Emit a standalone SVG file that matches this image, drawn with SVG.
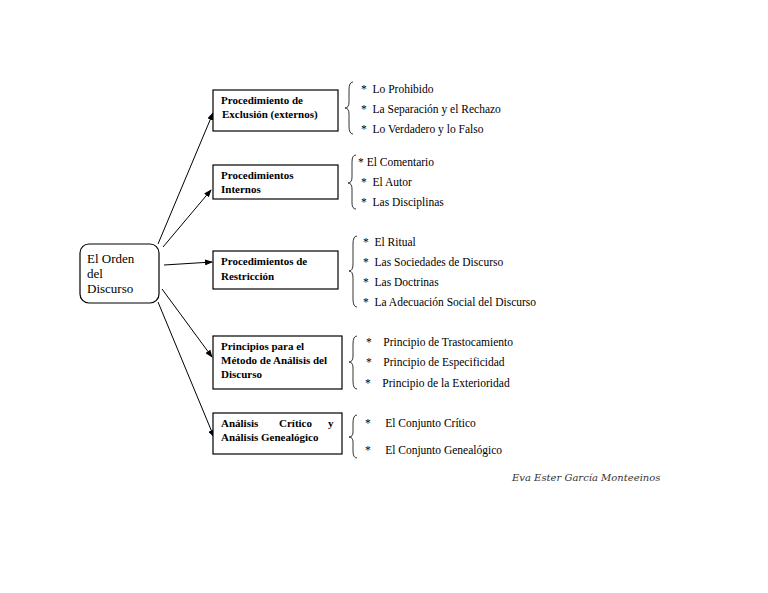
<svg xmlns="http://www.w3.org/2000/svg" width="768" height="593" viewBox="0 0 768 593">
<defs><marker id="ah" markerWidth="8" markerHeight="6" refX="7" refY="3" orient="auto" markerUnits="userSpaceOnUse"><path d="M0,0 L8,3 L0,6 z" fill="#000"/></marker></defs>
<style>
.b{fill:#fff;stroke:#000;stroke-width:1.2}
.t{font-family:"Liberation Serif",serif;font-size:11px;font-weight:bold;fill:#000}
.l{font-family:"Liberation Serif",serif;font-size:11.5px;fill:#000;white-space:pre}
.br{fill:none;stroke:#000;stroke-width:0.8}
.c{stroke:#000;stroke-width:1;fill:none;marker-end:url(#ah)}
</style>
<rect width="768" height="593" fill="#fff"/>
<g id="connectors">
<line class="c" x1="158" y1="244" x2="213" y2="113"/>
<line class="c" x1="163" y1="247" x2="211" y2="190"/>
<line class="c" x1="164" y1="265" x2="212" y2="262"/>
<line class="c" x1="162" y1="289" x2="212" y2="357"/>
<line class="c" x1="158" y1="302" x2="214" y2="437"/>
</g>
<g id="root"><rect class="b" x="80" y="244" width="79" height="59" rx="9"/>
<text x="87" y="263" font-family="Liberation Serif,serif" font-size="13">El Orden</text>
<text x="87" y="278" font-family="Liberation Serif,serif" font-size="13">del</text>
<text x="87" y="293" font-family="Liberation Serif,serif" font-size="13">Discurso</text></g>
<g id="n1"><rect class="b" x="213" y="90" width="125" height="41"/>
<text class="t" x="221" y="104">Procedimiento de</text><text class="t" x="222" y="118">Exclusión (externos)</text></g>
<g id="n2"><rect class="b" x="213" y="165" width="125" height="34"/>
<text class="t" x="221" y="179">Procedimientos</text><text class="t" x="221" y="193">Internos</text></g>
<g id="n3"><rect class="b" x="213" y="251" width="125" height="38"/>
<text class="t" x="221" y="265">Procedimientos de</text><text class="t" x="221" y="280">Restricción</text></g>
<g id="n4"><rect class="b" x="213" y="336" width="129" height="53"/>
<text class="t" x="221" y="350">Principios para el</text><text class="t" x="221" y="364">Método de Análisis del</text><text class="t" x="221" y="378">Discurso</text></g>
<g id="n5"><rect class="b" x="213" y="413" width="129" height="41"/>
<text class="t" x="221" y="427">Análisis</text><text class="t" x="279" y="427">Crítico</text><text class="t" x="328" y="427">y</text><text class="t" x="221" y="441">Análisis Genealógico</text></g>
<g id="lists">
<path class="br" d="M353,82 Q349,82 349,90 L349,102 Q349,108 345,108 Q349,108 349,114 L349,126 Q349,134 353,134"/>
<text class="l" x="361" y="93" xml:space="preserve">*  Lo Prohibido</text>
<text class="l" x="361" y="113" xml:space="preserve">*  La Separación y el Rechazo</text>
<text class="l" x="361" y="133" xml:space="preserve">*  Lo Verdadero y lo Falso</text>
<path class="br" d="M356,155 Q352,155 352,162 L352,177 Q352,183 348,183 Q352,183 352,189 L352,203 Q352,209 356,209"/>
<text class="l" x="358" y="166" xml:space="preserve">* El Comentario</text>
<text class="l" x="361" y="186" xml:space="preserve">*  El Autor</text>
<text class="l" x="361" y="206" xml:space="preserve">*  Las Disciplinas</text>
<path class="br" d="M357,236 Q353,236 353,244 L353,264 Q353,271 349,271 Q353,271 353,278 L353,299 Q353,307 357,307"/>
<text class="l" x="363" y="246" xml:space="preserve">*  El Ritual</text>
<text class="l" x="363" y="266" xml:space="preserve">*  Las Sociedades de Discurso</text>
<text class="l" x="363" y="286" xml:space="preserve">*  Las Doctrinas</text>
<text class="l" x="363" y="306" xml:space="preserve">*  La Adecuación Social del Discurso</text>
<path class="br" d="M357,336 Q353,336 353,344 L353,356 Q353,362 349,362 Q353,362 353,368 L353,381 Q353,389 357,389"/>
<text class="l" x="366" y="346" xml:space="preserve">*    Principio de Trastocamiento</text>
<text class="l" x="366" y="366" xml:space="preserve">*    Principio de Especificidad</text>
<text class="l" x="365" y="387" xml:space="preserve">*    Principio de la Exterioridad</text>
<path class="br" d="M357,415 Q353,415 353,423 L353,432 Q353,437 349,437 Q353,437 353,442 L353,451 Q353,458 357,458"/>
<text class="l" x="365" y="427" xml:space="preserve">*     El Conjunto Crítico</text>
<text class="l" x="365" y="454" xml:space="preserve">*     El Conjunto Genealógico</text>
</g>
<text x="512" y="481" font-family="DejaVu Serif,serif" font-style="italic" font-size="10" fill="#333">Eva Ester García Monteeinos</text>
</svg>
